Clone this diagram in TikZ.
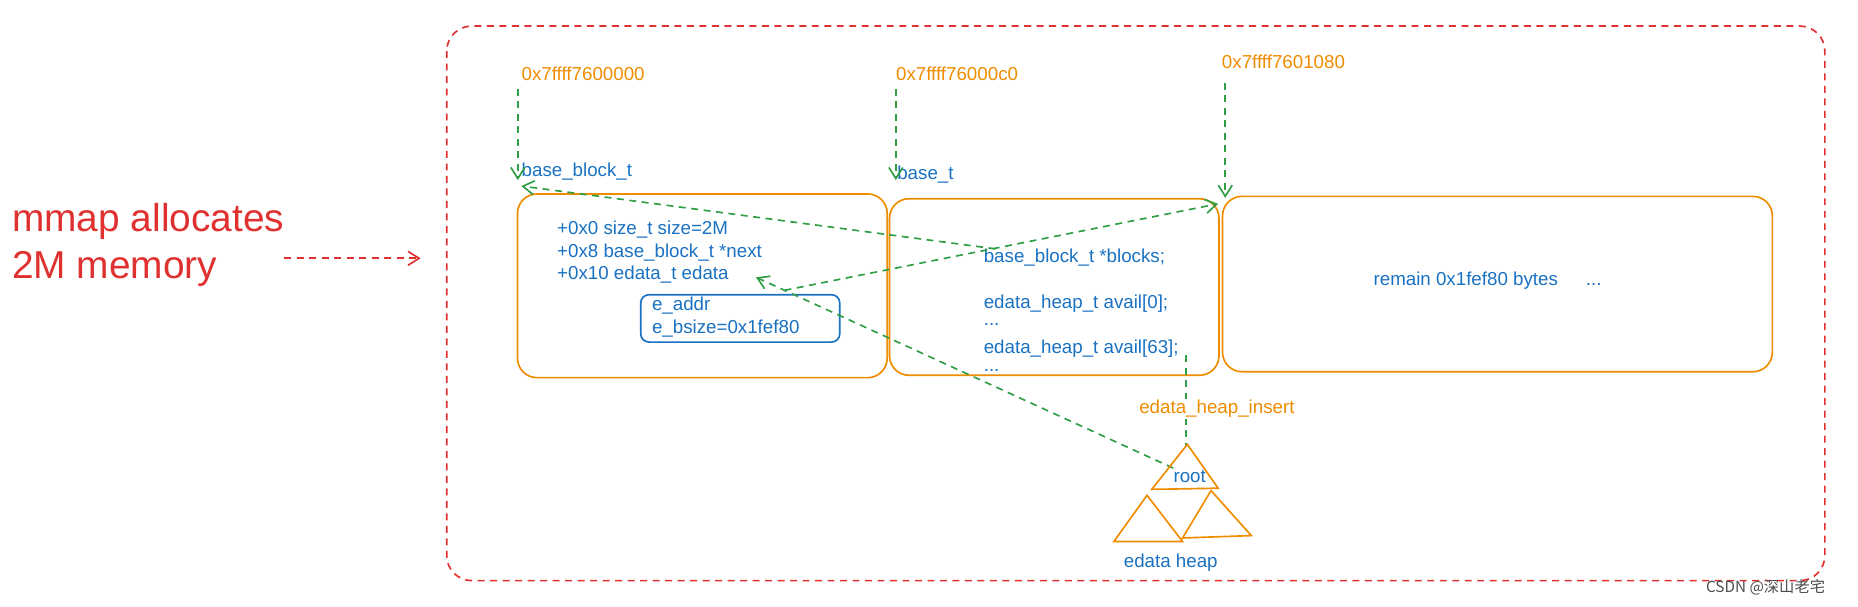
\documentclass[tikz,border=0pt]{standalone}
\usepackage{fontspec}
\setmainfont{Liberation Sans}
\newfontfamily\cjk{Noto Sans CJK SC}
\usetikzlibrary{arrows.meta}
\definecolor{xblue}{HTML}{1971C2}
\definecolor{xorange}{HTML}{F08C00}
\definecolor{xgreen}{HTML}{2F9E44}
\definecolor{xred}{HTML}{E03131}
\begin{document}
\begin{tikzpicture}[x=0.03cm,y=-0.03cm,
  obox/.style={draw=xorange,line width=1.2pt,rounded corners=14pt},
  gdash/.style={draw=xgreen,line width=1.2pt,dash pattern=on 5pt off 4pt,-{Straight Barb[length=8pt,width=10pt]}},
  btxt/.style={text=xblue,font=\fontsize{13.5}{16}\selectfont,inner sep=0pt,anchor=west},
  otxt/.style={text=xorange,font=\fontsize{13.5}{16}\selectfont,inner sep=0pt,anchor=west}]
\useasboundingbox (0,0) rectangle (1568,512);
\draw[xred,line width=1.2pt,dash pattern=on 5pt off 4pt,rounded corners=18pt] (377,22) rectangle (1540,490);
\node[text=xred,font=\fontsize{28}{34}\selectfont,align=left,anchor=west,inner sep=0pt] (mm) at (10,207) {mmap allocates\\2M memory};
\coordinate (ra) at (240,218); \coordinate (rb) at (355,218);
\draw[xred,line width=1.2pt,dash pattern=on 5pt off 4pt,-{Straight Barb[length=8pt,width=10pt]}] (ra) -- (rb);
\node[obox,minimum width=312*0.03cm,minimum height=155*0.03cm,anchor=north west] (b1) at (436,163) {};
\node[obox,minimum width=278*0.03cm,minimum height=149*0.03cm,anchor=north west] (b2) at (750,167) {};
\node[obox,minimum width=464*0.03cm,minimum height=148*0.03cm,anchor=north west] (b3) at (1031,165) {};
\node[otxt] (a1) at (440,62) {0x7ffff7600000};
\node[otxt] (a2) at (756,62) {0x7ffff76000c0};
\node[otxt] (a3) at (1031,52) {0x7ffff7601080};
\node[btxt] (l1) at (440,145) {base\_block\_t};
\node[btxt] (l2) at (757,147) {base\_t};
\coordinate (d1a) at (437,75); \coordinate (d1b) at (437,152);
\coordinate (d2a) at (756,75); \coordinate (d2b) at (756,152);
\coordinate (d3a) at (1034,70); \coordinate (d3b) at (1034,167);
\draw[gdash] (d1a) -- (d1b);
\draw[gdash] (d2a) -- (d2b);
\draw[gdash] (d3a) -- (d3b);
\node[btxt] (t1) at (470,194) {+0x0 size\_t size=2M};
\node[btxt] (t2) at (470,213) {+0x8 base\_block\_t *next};
\node[btxt] (t3) at (470,232) {+0x10 edata\_t edata};
\node[draw=xblue,line width=1.2pt,rounded corners=6pt,minimum width=168*0.03cm,minimum height=40*0.03cm,anchor=north west] (eb) at (540,248) {};
\node[btxt] (e1) at (550,258) {e\_addr};
\node[btxt] (e2) at (550,277) {e\_bsize=0x1fef80};
\node[btxt] (s1) at (830,217) {base\_block\_t *blocks;};
\node[btxt] (s2) at (830,256) {edata\_heap\_t avail[0];};
\node[btxt] (s3) at (830,274) {...};
\node[btxt] (s4) at (830,294) {edata\_heap\_t avail[63];};
\node[btxt] (s5) at (830,313) {...};
\node[btxt,anchor=center] (r1) at (1237,237) {remain 0x1fef80 bytes};
\node[btxt,anchor=center] (r2) at (1345,240) {...};
\coordinate (g1a) at (840,210); \coordinate (g1b) at (440,157);
\draw[gdash] (g1a) -- (g1b);
\coordinate (g2a) at (662,245); \coordinate (g2b) at (1028,172);
\draw[gdash] (g2a) -- (g2b);
\coordinate (g3a) at (990,395); \coordinate (g3b) at (638,234);
\draw[gdash] (g3a) -- (g3b);
\coordinate (v1) at (1001,300); \coordinate (v2) at (1001,376);
\draw[xgreen,line width=1.2pt,dash pattern=on 5pt off 4pt] (v1) -- (v2);
\node[otxt,anchor=center,fill=white,inner sep=1pt] (ins) at (1027,345) {edata\_heap\_insert};
\draw[xorange,line width=1.2pt] (1002,375) -- (972,413) -- (1028,412) -- cycle;
\draw[xorange,line width=1.2pt] (968,418) -- (940,457) -- (998,457) -- cycle;
\draw[xorange,line width=1.2pt] (1022,414) -- (998,454) -- (1056,452) -- cycle;
\node[btxt,anchor=center] (root) at (1004,402) {root};
\node[btxt,anchor=center] (eh) at (988,475) {edata heap};
\node[text=black!70,font=\cjk\fontsize{11}{13}\selectfont,anchor=center] (wm) at (1490,496) {CSDN @深山老宅};
\end{tikzpicture}
\end{document}
